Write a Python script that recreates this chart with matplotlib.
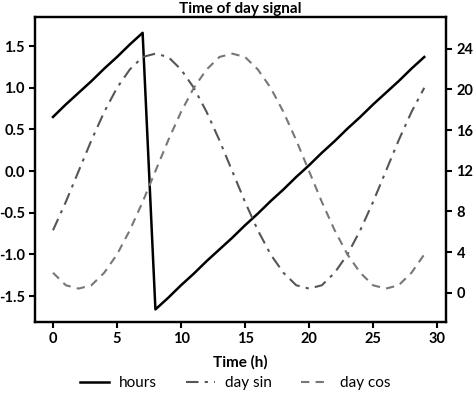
import numpy as np
import matplotlib
matplotlib.use('Agg')
import matplotlib.pyplot as plt

plt.rcParams['font.family'] = ['Lato', 'DejaVu Sans']

# Dữ liệu
time_h = list(range(30))
hours = [0.65, 0.80, 0.94, 1.08, 1.23, 1.37, 1.52, 1.66,
         -1.66, -1.52, -1.37, -1.23, -1.08, -0.94, -0.80, -0.65,
         -0.51, -0.36, -0.22, -0.07, 0.07, 0.22, 0.36, 0.51,
         0.65, 0.80, 0.94, 1.08, 1.23, 1.37]
day_sin = [-0.71, -0.37, 0.00, 0.37, 0.71, 1.00, 1.22, 1.37,
           1.41, 1.37, 1.22, 1.00, 0.71, 0.37, 0.00, -0.37,
           -0.71, -1.00, -1.22, -1.37, -1.41, -1.37, -1.22, -1.00,
           -0.71, -0.37, 0.00, 0.37, 0.71, 1.00]
day_cos = [-1.22, -1.37, -1.41, -1.37, -1.22, -1.00, -0.71, -0.37,
           0.00, 0.37, 0.71, 1.00, 1.22, 1.37, 1.41, 1.37,
           1.22, 1.00, 0.71, 0.37, 0.00, -0.37, -0.71, -1.00,
           -1.22, -1.37, -1.41, -1.37, -1.22, -1.00]
left_ticks = [-1.5, -1.0, -0.5, 0.0, 0.5, 1.0, 1.5]
right_ticks = [0, 4, 8, 12, 16, 20, 24]
x_ticks = [0, 5, 10, 15, 20, 25, 30]

fig = plt.figure(figsize=(4.74, 3.95), dpi=100)
ax = fig.add_axes([0.074, 0.185, 0.867, 0.772])

ax.plot(time_h, hours, color='black', lw=1.8, label='hours')
ax.plot(time_h, day_sin, color='#555555', lw=1.5, ls=(0, (6, 3, 1.5, 3)), label='day sin')
ax.plot(time_h, day_cos, color='#777777', lw=1.5, ls=(0, (4, 3)), label='day cos')

ax.set_xlim(-1.4, 30.7)
ax.set_ylim(-1.81, 1.85)
ax.set_xticks(x_ticks)
ax.set_yticks(left_ticks)
ax.set_yticklabels([f'{v:.1f}' for v in left_ticks])
ax.tick_params(labelsize=10.5, width=1.5, length=4)
for lab in ax.get_xticklabels() + ax.get_yticklabels():
    lab.set_fontweight('bold')
for s in ax.spines.values():
    s.set_linewidth(1.6)

ax.set_title('Time of day signal', fontsize=11, fontweight='bold', pad=3)
ax.set_xlabel('Time (h)', fontsize=11, fontweight='bold', labelpad=6)

ax2 = ax.twinx()
ax2.set_ylim(-2.85, 27.1)
ax2.set_yticks(right_ticks)
ax2.tick_params(labelsize=10.5, width=1.5, length=4)
for lab in ax2.get_yticklabels():
    lab.set_fontweight('bold')
for s in ax2.spines.values():
    s.set_linewidth(1.6)

handles, labels = ax.get_legend_handles_labels()
fig.legend(handles, labels, loc='center', bbox_to_anchor=(0.496, 0.03), ncol=3,
           frameon=False, fontsize=11, handlelength=1.9, handletextpad=0.65,
           columnspacing=1.9, borderpad=0.1)

fig.savefig('out.png', dpi=100)
